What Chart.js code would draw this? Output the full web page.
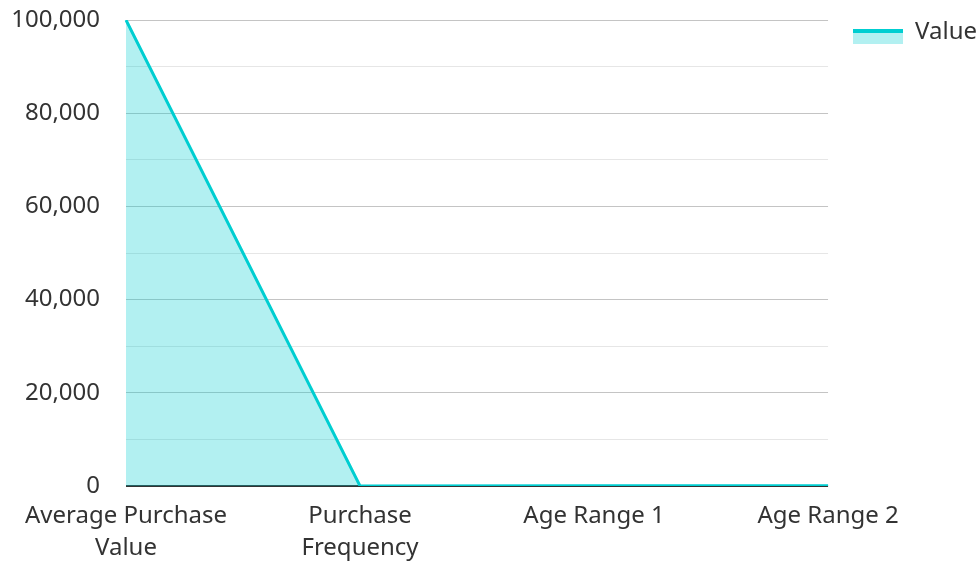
<!DOCTYPE html>
<html>
<head>
<meta charset="utf-8">
<script src="https://cdn.jsdelivr.net/npm/chart.js@4"></script>
<style>
  html, body { margin: 0; padding: 0; background: #ffffff; }
  #wrap { width: 978px; height: 562px; }
</style>
</head>
<body>
<div id="wrap"><canvas id="chart"></canvas></div>
<script>
const categories = [['Average Purchase', 'Value'], ['Purchase', 'Frequency'], 'Age Range 1', 'Age Range 2'];
const seriesName = 'Value';
const seriesValues = [100000, 5, 30, 40];
const yTickStep = 10000;
const yLabelStep = 20000;

const LINE = '#00ced1';
const FILL = 'rgba(0, 206, 209, 0.3)';
const TEXT = '#333333';
const FONT = '"Noto Sans", "Open Sans", sans-serif';

// Legend swatch: filled band with a solid line across its top,
// sitting a little below the label's middle
const swatch = document.createElement('canvas');
swatch.width = 50; swatch.height = 24;
(function () {
  const c = swatch.getContext('2d');
  c.fillStyle = FILL;
  c.fillRect(0, 9, 50, 15);
  c.fillStyle = LINE;
  c.fillRect(0, 9, 50, 4);
})();

new Chart(document.getElementById('chart'), {
  type: 'line',
  data: {
    labels: categories,
    datasets: [{
      label: seriesName,
      data: seriesValues,
      borderColor: LINE,
      backgroundColor: FILL,
      borderWidth: 3,
      fill: 'origin',
      pointRadius: 0,
      tension: 0
    }]
  },
  options: {
    responsive: true,
    maintainAspectRatio: false,
    animation: false,
    layout: { padding: { top: -5, right: -9, left: 0, bottom: 0 } },
    plugins: {
      tooltip: { enabled: false },
      legend: {
        position: 'right',
        align: 'start',
        labels: {
          usePointStyle: true,
          pointStyleWidth: 50,
          boxHeight: 15,
          padding: 25,
          color: TEXT,
          font: { family: FONT, size: 24 },
          generateLabels: (chart) => chart.data.datasets.map((ds, i) => ({
            text: ds.label,
            pointStyle: swatch,
            fillStyle: FILL,
            strokeStyle: LINE,
            lineWidth: 0,
            fontColor: TEXT,
            datasetIndex: i,
            hidden: false
          }))
        }
      }
    },
    scales: {
      x: {
        offset: false,
        grid: { display: false, drawTicks: false },
        border: { display: false },
        ticks: {
          color: TEXT,
          font: { family: FONT, size: 24, lineHeight: 1.3 },
          padding: 15,
          maxRotation: 0,
          autoSkip: false
        },
        afterFit: (scale) => { scale.height = 76; }
      },
      y: {
        min: 0,
        max: 100000,
        border: { display: false },
        grid: {
          drawTicks: false,
          color: (ctx) => {
            const v = ctx.tick ? ctx.tick.value : 0;
            if (v === 0) return '#333333';
            return v % yLabelStep === 0 ? '#c4c4c4' : '#e6e6e6';
          },
          lineWidth: (ctx) => (ctx.tick && ctx.tick.value === 0 ? 2 : 1)
        },
        ticks: {
          stepSize: yTickStep,
          color: TEXT,
          padding: 26,
          font: { family: FONT, size: 24 },
          callback: (v) => (v % yLabelStep === 0 ? v.toLocaleString('en-US') : '')
        },
        afterFit: (scale) => { scale.width = 126; scale.paddingTop = 20; }
      }
    }
  }
});
</script>
</body>
</html>
